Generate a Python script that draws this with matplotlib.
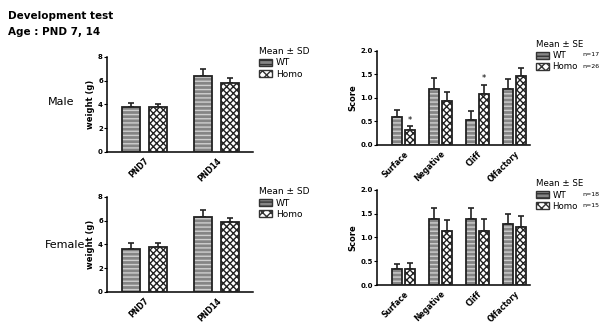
import matplotlib.pyplot as plt
import numpy as np
from matplotlib.patches import Patch

# weight data (g), Mean +- SD
wt_groups = ["PND7", "PND14"]
male_wt = [3.8, 6.4]
male_wt_sd = [0.35, 0.55]
male_homo = [3.75, 5.8]
male_homo_sd = [0.25, 0.4]
female_wt = [3.6, 6.3]
female_wt_sd = [0.5, 0.55]
female_homo = [3.8, 5.85]
female_homo_sd = [0.35, 0.35]

# behaviour scores, Mean +- SE
tests = ["Surface", "Negative", "Cliff", "Olfactory"]
male_sc_wt = [0.60, 1.18, 0.53, 1.18]
male_sc_wt_se = [0.15, 0.23, 0.19, 0.21]
male_sc_homo = [0.32, 0.93, 1.08, 1.47]
male_sc_homo_se = [0.08, 0.19, 0.20, 0.15]
male_stars = [True, False, True, False]   # star above Homo bar
female_sc_wt = [0.34, 1.39, 1.39, 1.28]
female_sc_wt_se = [0.11, 0.23, 0.23, 0.22]
female_sc_homo = [0.34, 1.14, 1.14, 1.21]
female_sc_homo_se = [0.13, 0.23, 0.25, 0.24]
female_stars = [False, False, False, False]
male_n = ["n=17", "n=26"]
female_n = ["n=18", "n=15"]

fig = plt.figure(figsize=(6.05, 3.28), dpi=100)

fig.text(0.013, 0.965, "Development test", fontsize=7.5, fontweight="bold", va="top")
fig.text(0.013, 0.918, "Age : PND 7, 14", fontsize=7.5, fontweight="bold", va="top")
fig.text(0.079, 0.689, "Male", fontsize=8, va="center")
fig.text(0.075, 0.253, "Female", fontsize=8, va="center")

WT_FACE = "#858585"


def draw_bars(ax, x, vals, errs, off, w, kind):
    if kind == "wt":
        pos = x - off
        ax.bar(pos, vals, w, color=WT_FACE, hatch="----", edgecolor="#cfcfcf", lw=0, zorder=2)
    else:
        pos = x + off
        ax.bar(pos, vals, w, color="white", hatch="xxxxx", edgecolor="#222", lw=0, zorder=2)
    ax.bar(pos, vals, w, color="none", edgecolor="#222", lw=1.3, zorder=3)
    ax.errorbar(pos, vals, yerr=[np.zeros(len(vals)), errs], fmt="none",
                ecolor="#222", elinewidth=1.2, capsize=2.5, capthick=1.2, zorder=1)


def style(ax, labels, ylabel):
    for s in ["top", "right"]:
        ax.spines[s].set_visible(False)
    for s in ["left", "bottom"]:
        ax.spines[s].set_linewidth(1.1)
    ax.tick_params(axis="both", labelsize=5, width=0.8, length=2, pad=1)
    for t in ax.get_yticklabels():
        t.set_fontweight("bold")
    ax.set_xticklabels(labels, rotation=45, ha="right", rotation_mode="anchor",
                       fontsize=5.5, fontweight="bold")
    ax.tick_params(axis="x", length=0, pad=3)
    ax.set_ylabel(ylabel, fontsize=6, fontweight="bold", labelpad=2)


def legend(ax, title, x, y, size):
    h = [Patch(facecolor=WT_FACE, hatch="----", edgecolor="#333"),
         Patch(facecolor="white", hatch="xxxx", edgecolor="#333")]
    lg = ax.legend(h, ["WT", "Homo"], title=title, loc="upper left", bbox_to_anchor=(x, y),
                   frameon=False, fontsize=size, title_fontsize=size, handlelength=1.5,
                   handleheight=0.8, handletextpad=0.4, labelspacing=0.25,
                   borderaxespad=0, borderpad=0)
    lg._legend_box.align = "left"
    return lg


# weight panels
xw = np.arange(len(wt_groups))
for rect, wv, ws, hv, hs in [
    ([0.177, 0.537, 0.241, 0.290], male_wt, male_wt_sd, male_homo, male_homo_sd),
    ([0.177, 0.110, 0.241, 0.290], female_wt, female_wt_sd, female_homo, female_homo_sd),
]:
    ax = fig.add_axes(rect)
    draw_bars(ax, xw, wv, ws, 0.186, 0.25, "wt")
    draw_bars(ax, xw, hv, hs, 0.186, 0.25, "homo")
    ax.set_xlim(-0.52, 1.5)
    ax.set_ylim(0, 8)
    ax.set_yticks([0, 2, 4, 6, 8])
    ax.set_xticks(xw)
    style(ax, wt_groups, "weight (g)")
    legend(ax, "Mean ± SD", 1.04, 1.10, 6.5)

# score panels
xs = np.arange(len(tests))
for rect, wv, ws, hv, hs, ns, stars in [
    ([0.623, 0.558, 0.253, 0.288], male_sc_wt, male_sc_wt_se, male_sc_homo, male_sc_homo_se,
     male_n, male_stars),
    ([0.623, 0.131, 0.253, 0.290], female_sc_wt, female_sc_wt_se, female_sc_homo,
     female_sc_homo_se, female_n, female_stars),
]:
    ax = fig.add_axes(rect)
    draw_bars(ax, xs, wv, ws, 0.176, 0.27, "wt")
    draw_bars(ax, xs, hv, hs, 0.176, 0.27, "homo")
    for i, st in enumerate(stars):
        if st:
            ax.text(xs[i] + 0.176, hv[i] + hs[i] + 0.03, "*", ha="center", va="bottom", fontsize=6)
    ax.set_xlim(-0.72, 3.42)
    ax.set_ylim(0, 2.0)
    ax.set_yticks([0, 0.5, 1.0, 1.5, 2.0])
    ax.set_yticklabels(["0.0", "0.5", "1.0", "1.5", "2.0"])
    ax.set_xticks(xs)
    style(ax, tests, "Score")
    legend(ax, "Mean ± SE", 1.04, 1.11, 6.2)
    ax.text(1.345, 0.955, ns[0], transform=ax.transAxes, fontsize=4.5, va="center")
    ax.text(1.345, 0.835, ns[1], transform=ax.transAxes, fontsize=4.5, va="center")

fig.savefig("out.png", dpi=100)
